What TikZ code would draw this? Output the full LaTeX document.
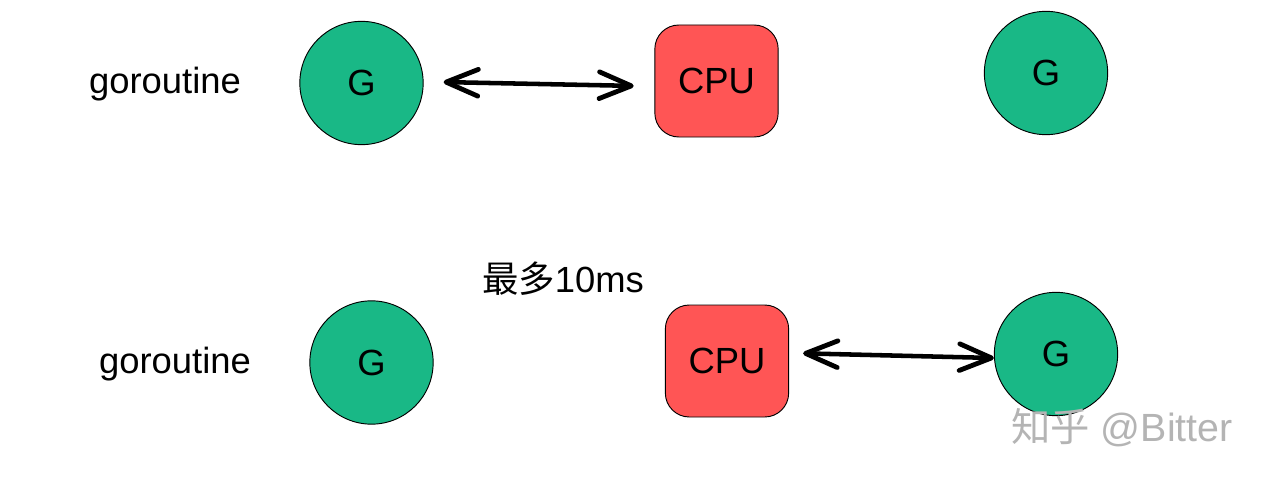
\documentclass[tikz,border=0pt]{standalone}
\usepackage{fontspec}
\setmainfont{Liberation Sans}
\newfontfamily\cjk{Noto Sans CJK SC}
\usepackage{tikz}
\usetikzlibrary{arrows.meta}
\definecolor{gorgreen}{HTML}{19B886}
\definecolor{cpured}{HTML}{FF5555}
\definecolor{markgray}{HTML}{B4B4B4}

\begin{document}
\begin{tikzpicture}[x=0.75pt,y=-0.75pt,
	every node/.style={inner sep=0pt,font=\fontsize{27.3}{31}\selectfont},
	gnode/.style={circle,draw=black,fill=gorgreen,line width=0.7pt,minimum size=92.5pt},
	cpunode/.style={rectangle,rounded corners=18pt,draw=black,fill=cpured,line width=0.7pt,minimum width=92.5pt,minimum height=84pt},
	link/.style={line width=3.4pt,line cap=round,{Straight Barb[length=24pt,width=20pt,line width=3.6pt,round]}-{Straight Barb[length=24pt,width=20pt,line width=3.6pt,round]}}]
\useasboundingbox (0,0) rectangle (1266,478);

\node (lab1) at (165,84) {goroutine};
\node[gnode] (g1) at (361.5,83) {G};
\node[cpunode] (cpu1) at (716.5,81) {CPU};
\node[gnode] (g2) at (1046,73) {G};

\node (limit) at (563,279) {{\cjk 最多}10ms};
\node (lab2) at (175,364) {goroutine};
\node[gnode] (g3) at (371.5,362.5) {G};
\node[cpunode] (cpu2) at (727,361) {CPU};
\node[gnode] (g4) at (1056,354) {G};

\node[text=markgray,font=\fontsize{29.5}{33}\selectfont] (mark) at (1122,428) {{\cjk 知乎} @Bitter};

\draw[link,shorten <=15pt,shorten >=15.5pt] ([yshift=1pt]g1.east)--([yshift=-4pt]cpu1.west);
\draw[link,shorten <=10.5pt,shorten >=0pt] ([yshift=6pt]cpu2.east)--([yshift=-3pt]g4.west);
\end{tikzpicture}
\end{document}
